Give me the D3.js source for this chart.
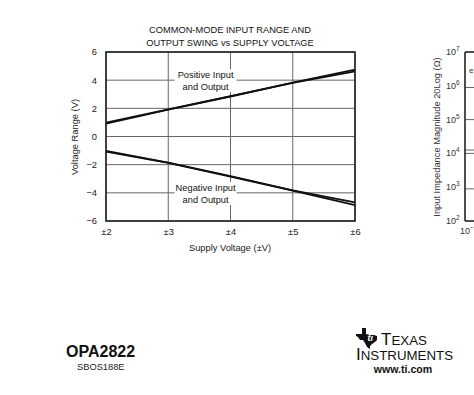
<!DOCTYPE html>
<html><head><meta charset="utf-8">
<script src="https://cdn.jsdelivr.net/npm/d3@7"></script>
<style>body{margin:0;background:#fff}svg{display:block}text{font-family:"Liberation Sans",Arial,sans-serif}</style>
</head><body><svg id="c" width="474" height="395"></svg>
<script>
const supply = [2, 3, 4, 5, 6];
const posInput = [0.92, 1.9, 2.84, 3.83, 4.75];
const posOutput = [0.98, 1.93, 2.87, 3.8, 4.62];
const negInput = [-1.03, -1.85, -2.82, -3.82, -4.68];
const negOutput = [-1.07, -1.88, -2.85, -3.84, -4.88];
const xTicks = [2, 3, 4, 5, 6];
const yTicks = [-6, -4, -2, 0, 2, 4, 6];
const titleLines = ["COMMON-MODE INPUT RANGE AND", "OUTPUT SWING vs SUPPLY VOLTAGE"];
const rightTicks = [2, 3, 4, 5, 6, 7];

const svg = d3.select("#c");
const L = 106, R = 355, T = 52, B = 221;
const x = d3.scaleLinear().domain([2, 6]).range([L, R]);
const y = d3.scaleLinear().domain([-6, 6]).range([B, T]);

// gridlines
const g = svg.append("g");
g.selectAll(".vg").data(xTicks).join("line")
  .attr("x1", d => x(d)).attr("x2", d => x(d)).attr("y1", T).attr("y2", B)
  .attr("stroke", "#666").attr("stroke-width", 1);
g.selectAll(".hg").data(yTicks).join("line")
  .attr("y1", d => y(d)).attr("y2", d => y(d)).attr("x1", L).attr("x2", R)
  .attr("stroke", "#666").attr("stroke-width", 1);

// annotation knockouts
const ann = [
  {x: 3.6, yv: 4.0, lines: ["Positive Input", "and Output"]},
  {x: 3.6, yv: -4.0, lines: ["Negative Input", "and Output"]}
];
ann.forEach(a => {
  const cx = x(a.x), cy = y(a.yv);
  svg.append("rect").attr("x", cx - 31).attr("y", cy - 11).attr("width", 62).attr("height", 23).attr("fill", "#fff");
  a.lines.forEach((t, i) => svg.append("text").attr("x", cx).attr("y", cy - 2 + i * 12)
    .attr("text-anchor", "middle").attr("font-size", 9.3).attr("fill", "#111").text(t));
});

// lines
const line = d3.line().x((d, i) => x(supply[i])).y(d => y(d));
[posInput, posOutput, negInput, negOutput].forEach(s =>
  svg.append("path").datum(s).attr("d", line).attr("fill", "none").attr("stroke", "#111").attr("stroke-width", 1.8));

// border
svg.append("rect").attr("x", L).attr("y", T).attr("width", R - L).attr("height", B - T)
  .attr("fill", "none").attr("stroke", "#222").attr("stroke-width", 1.6);

// axes labels
const xa = d3.axisBottom(x).tickValues(xTicks).tickSize(0).tickPadding(7).tickFormat(d => "±" + d);
svg.append("g").attr("transform", `translate(0,${B})`).call(xa)
  .call(s => s.select(".domain").remove())
  .selectAll("text").attr("font-size", 9.3).attr("fill", "#222").style("font-family", '"Liberation Sans",Arial,sans-serif');
const ya = d3.axisLeft(y).tickValues(yTicks).tickSize(0).tickPadding(9).tickFormat(d => d < 0 ? "−" + Math.abs(d) : d);
svg.append("g").attr("transform", `translate(${L},0)`).call(ya)
  .call(s => s.select(".domain").remove())
  .selectAll("text").attr("font-size", 9.3).attr("fill", "#222").style("font-family", '"Liberation Sans",Arial,sans-serif');

// titles
titleLines.forEach((t, i) => svg.append("text").attr("x", 230).attr("y", 33 + i * 12.5)
  .attr("text-anchor", "middle").attr("font-size", 9.3).attr("fill", "#111").text(t));
svg.append("text").attr("x", 230).attr("y", 251).attr("text-anchor", "middle")
  .attr("font-size", 9.3).attr("fill", "#222").text("Supply Voltage (±V)");
svg.append("text").attr("transform", "translate(78,137) rotate(-90)").attr("text-anchor", "middle")
  .attr("font-size", 9.3).attr("fill", "#222").text("Voltage Range (V)");

// right partial chart
const yr = d3.scaleLinear().domain([2, 7]).range([B, T]);
const RL = 465;
svg.append("text").attr("transform", "translate(440,137) rotate(-90)").attr("text-anchor", "middle")
  .attr("font-size", 9.3).attr("fill", "#333").text("Input Impedance Magnitude 20Log (Ω)");
rightTicks.forEach(p => {
  const t = svg.append("text").attr("x", 446).attr("y", yr(p) + 3)
    .attr("font-size", 9).attr("fill", "#333");
  t.append("tspan").text("10");
  t.append("tspan").attr("dy", -4).attr("font-size", 6.5).text(p);
});
[5.95, 5.0, 4.1, 4.0, 2.95].forEach(p => svg.append("line").attr("x1", RL).attr("x2", 474)
  .attr("y1", yr(p)).attr("y2", yr(p)).attr("stroke", "#666").attr("stroke-width", 1));
svg.append("line").attr("x1", RL).attr("x2", RL).attr("y1", T).attr("y2", B).attr("stroke", "#222").attr("stroke-width", 1.6);
svg.append("line").attr("x1", RL).attr("x2", 474).attr("y1", T).attr("y2", T).attr("stroke", "#222").attr("stroke-width", 1.6);
svg.append("line").attr("x1", RL).attr("x2", 474).attr("y1", B).attr("y2", B).attr("stroke", "#222").attr("stroke-width", 1.6);
svg.append("text").attr("x", 469).attr("y", 73).attr("font-size", 8).attr("fill", "#333").text("e");
const bt = svg.append("text").attr("x", 460).attr("y", 234).attr("font-size", 9).attr("fill", "#333");
bt.append("tspan").text("10");
bt.append("tspan").attr("dy", -4).attr("font-size", 6.5).text("−2");

// footer
svg.append("text").attr("x", 66).attr("y", 357).attr("font-size", 16).attr("font-weight", "bold").attr("fill", "#111").text("OPA2822");
svg.append("text").attr("x", 77).attr("y", 370).attr("font-size", 9.3).attr("fill", "#222").text("SBOS188E");

// TI logo
const logo = svg.append("g").attr("transform", "translate(356,328)");
logo.append("path").attr("d", "M6,0 L10,0 L10,6 L14,7 L18,7 L21,8 L21,12 L19,14 L16,16 L14,18 L14,21 L11,19 L9,15 L7,12 L4,12 L2,9 L0,8 L0,6 L6,6 Z").attr("fill", "#111");
logo.append("text").attr("x", 11.5).attr("y", 13).attr("font-size", 9).attr("font-weight", "bold").attr("fill", "#fff").attr("font-style", "italic").text("ti");
const tx = svg.append("text").attr("x", 381).attr("y", 345).attr("font-family", '"Liberation Serif",serif').attr("fill", "#111");
tx.append("tspan").attr("font-size", 17).text("T");
tx.append("tspan").attr("font-size", 13.3).text("EXAS");
const ins = svg.append("text").attr("x", 356).attr("y", 360).attr("font-family", '"Liberation Serif",serif').attr("fill", "#111");
ins.append("tspan").attr("font-size", 17).text("I");
ins.append("tspan").attr("font-size", 13.3).text("NSTRUMENTS");
svg.append("text").attr("x", 403).attr("y", 373).attr("text-anchor", "middle").attr("font-size", 10.6).attr("font-weight", "bold").attr("fill", "#111").text("www.ti.com");
</script></body></html>
